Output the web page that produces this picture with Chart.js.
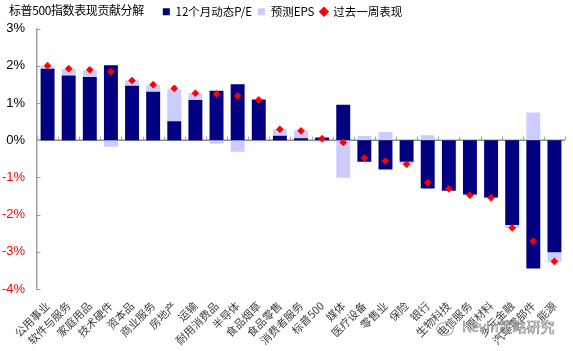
<!DOCTYPE html>
<html><head><meta charset="utf-8">
<script src="https://cdn.jsdelivr.net/npm/chart.js@4"></script>
<style>
html,body{margin:0;padding:0;background:#fff;}
#wrap{position:relative;width:573px;height:351px;overflow:hidden;}
#title{position:absolute;left:9px;top:1px;font:12px "Noto Sans CJK SC";letter-spacing:-0.4px;color:#000;white-space:nowrap;}
#wm{position:absolute;left:462px;top:316px;font:14px "Noto Sans CJK SC";color:#fff;-webkit-text-stroke:0.6px #777;white-space:nowrap;}
#logo{position:absolute;left:436px;top:322px;width:16px;height:12px;border:1px solid #aaa;border-radius:50%;}
</style></head><body>
<div id="wrap">
<canvas id="c" width="573" height="351"></canvas>
<div id="title">标普500指数表现贡献分解</div>
<div id="logo"></div>
<div id="wm">Kevin策略研究</div>
</div>
<script>
const categories = ['公用事业','软件与服务','家庭用品','技术硬件','资本品','商业服务','房地产','运输','耐用消费品','半导体','食品烟草','食品零售','消费者服务','标普500','媒体','医疗设备','零售业','保险','银行','生物科技','电信服务','原材料','多元金融','汽车零部件','能源'];
const peValues = [1.92,1.74,1.70,2.01,1.46,1.30,0.51,1.08,1.33,1.50,1.09,0.12,0.05,0.07,0.95,-0.58,-0.79,-0.58,-1.30,-1.36,-1.46,-1.54,-2.28,-3.45,-3.01];
const epsValues = [0.07,0.17,0.18,-0.18,0.14,0.18,0.86,0.18,-0.10,-0.31,-0.03,0.18,0.21,-0.04,-1.01,0.11,0.22,-0.07,0.13,0.04,-0.03,-0.02,-0.08,0.74,-0.27];
const weekValues = [2.00,1.92,1.89,1.84,1.60,1.49,1.39,1.26,1.24,1.19,1.08,0.29,0.25,0.04,-0.06,-0.48,-0.56,-0.65,-1.14,-1.31,-1.48,-1.55,-2.36,-2.72,-3.26];
const yTicks = [3,2,1,0,-1,-2,-3,-4];
const seriesNames = ['12个月动态P/E','预测EPS','过去一周表现'];

const axisMarks = {
  id: 'axisMarks',
  beforeInit(chart) {
    const lg = chart.legend;
    if (lg) {
      const f = lg.fit;
      lg.fit = function () { f.call(this); this.height += 1; };
    }
  },
  beforeDatasetsDraw(chart) {
    const {ctx, chartArea, scales: {x, y}} = chart;
    const y0 = y.getPixelForValue(0);
    ctx.save();
    ctx.strokeStyle = '#8c8c8c';
    ctx.lineWidth = 1.5;
    ctx.beginPath();
    ctx.moveTo(chartArea.left, y0);
    ctx.lineTo(chartArea.right, y0);
    ctx.stroke();
    ctx.lineWidth = 1;
    ctx.strokeStyle = '#a0a0a0';
    const n = categories.length;
    const step = (x.getPixelForValue(n - 1) - x.getPixelForValue(0)) / (n - 1);
    ctx.beginPath();
    for (let i = 0; i <= n; i++) {
      const px = Math.round(x.getPixelForValue(0) - step / 2 + i * step) + 0.5;
      ctx.moveTo(px, y0);
      ctx.lineTo(px, y0 - 3.5);
    }
    for (const t of yTicks) {
      const py = Math.round(y.getPixelForValue(t)) + 0.5;
      ctx.moveTo(chartArea.left, py);
      ctx.lineTo(chartArea.left + 3.5, py);
    }
    ctx.stroke();
    ctx.restore();
  }
};

new Chart(document.getElementById('c'), {
  type: 'bar',
  data: {
    labels: categories,
    datasets: [
      {label: seriesNames[0], data: peValues, backgroundColor: '#000080', pointStyle: 'rect', stack: 's', order: 2,
       categoryPercentage: 1, barPercentage: 0.66},
      {label: seriesNames[1], data: epsValues, backgroundColor: '#ccccff', pointStyle: 'rect', stack: 's', order: 3,
       categoryPercentage: 1, barPercentage: 0.66},
      {type: 'line', label: seriesNames[2], data: weekValues, showLine: false, pointStyle: 'rectRot',
       pointRadius: 3.6, pointHoverRadius: 3.6, backgroundColor: '#ff0000', borderColor: '#ff0000', borderWidth: 0.5,
       stack: 'dots', order: 0}
    ]
  },
  options: {
    responsive: false,
    animation: false,
    events: [],
    layout: {padding: {top: 0, right: 8, left: 0, bottom: 0}},
    plugins: {
      title: {display: false},
      tooltip: {enabled: false},
      legend: {
        display: true, position: 'top', align: 'center',
        labels: {usePointStyle: true, boxWidth: 7, boxHeight: 7, padding: 6, color: '#000',
                 font: {family: 'Noto Sans CJK SC', size: 11.5},
                 sort: (a, b) => a.datasetIndex - b.datasetIndex}
      }
    },
    scales: {
      x: {
        type: 'category', stacked: true,
        grid: {display: false}, border: {display: false},
        ticks: {autoSkip: false, maxRotation: 45, minRotation: 45, padding: 2, color: '#404040',
                font: {family: 'Noto Sans CJK SC', size: 11}},
        afterFit(s) { s.height = 62; }
      },
      y: {
        stacked: true, min: -4, max: 3,
        grid: {display: false, drawTicks: false},
        border: {display: true, color: '#a0a0a0', width: 1.5},
        ticks: {stepSize: 1, padding: 12, font: {family: 'Liberation Sans', size: 13},
                color: (c) => c.tick.value < 0 ? '#ff0000' : '#000000',
                callback: (v) => v + '%'},
        afterFit(s) { s.width = 37; }
      }
    }
  },
  plugins: [axisMarks]
});
</script>
</body></html>
